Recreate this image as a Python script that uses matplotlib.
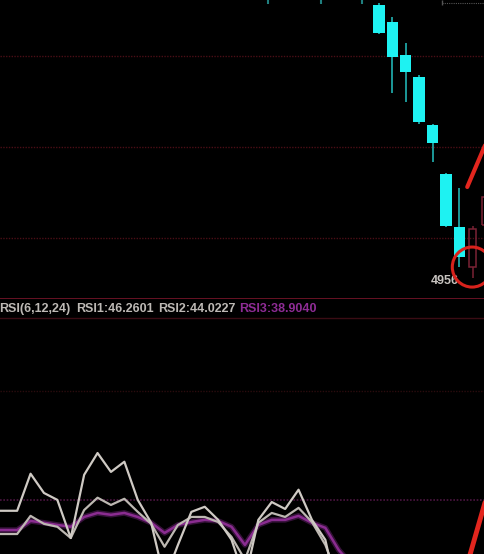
import numpy as np
import matplotlib
matplotlib.use("Agg")
import matplotlib.pyplot as plt
from matplotlib.patches import Ellipse

# candles (index, open, close, high, low) - last two are up candles (hollow)
idx = [28, 29, 30, 31, 32, 33, 34, 35, 36]
opens = [5256, 5237, 5201, 5177, 5124, 5070, 5012, 4968, 5014]
closes = [5225, 5199, 5182, 5127, 5104, 5013, 4979, 5010, 5045]
highs = [5258, 5243, 5214, 5179, 5125, 5071, 5055, 5013, 5052]
lows = [5224, 5159, 5149, 5125, 5083, 5012, 4968, 4956, 5009]
low_label = 4956
price_grid = [5000, 5100, 5200]

# wick tips of candles above the visible window
top_marks_x = [19.7, 23.7, 26.7]
top_marks_low = 5257

# RSI series, index -1 .. 36
rsi_idx = list(range(-1, 37))
rsi1 = [47.0, 47.0, 47.0, 57.2, 51.9, 50.0, 39.5, 56.9, 62.9, 57.7, 60.5, 50.0,
        43.7, 28.0, 37.6, 46.7, 48.1, 44.5, 39.0, 28.0, 44.5, 49.4, 47.5, 52.8,
        44.5, 39.0, 22.5, 18.0, 15.0, 12.0, 10.0, 8.5, 7.0, 6.0, 5.5, 12.0, 16.0, 24.0]
rsi2 = [40.6, 40.6, 40.6, 45.6, 43.4, 42.6, 39.5, 47.2, 50.6, 48.6, 50.3, 46.7,
        43.4, 37.1, 43.1, 45.3, 45.3, 43.9, 39.8, 33.5, 43.7, 46.4, 45.3, 47.8,
        43.9, 37.6, 28.0, 24.0, 21.0, 18.0, 16.0, 14.0, 12.0, 11.0, 10.0, 10.0, 14.0, 18.0]
rsi3 = [41.7, 41.7, 41.7, 44.2, 43.7, 43.1, 42.6, 45.3, 46.4, 45.9, 46.4, 45.3,
        43.7, 40.9, 43.1, 43.9, 44.5, 44.2, 42.6, 37.6, 43.1, 44.5, 44.5, 45.6,
        43.7, 42.3, 36.2, 32.0, 29.0, 26.0, 24.0, 22.0, 20.0, 18.0, 17.0, 16.0, 17.0, 19.0]
rsi_levels = [100, 80, 50]
rsi_header = ["RSI(6,12,24)", "RSI1:46.2601", "RSI2:44.0227", "RSI3:38.9040"]

# hand drawn red marks
arrow_up = ([34.59, 36.5], [5056, 5122])
arrow_rsi = ([34.5, 36.5], [31.1, 56.8])
circle_xy = (34.95, 4968)

W, H = 484, 554
fig = plt.figure(figsize=(W / 100, H / 100), dpi=100, facecolor="black")
ax1 = fig.add_axes([0, 1 - 299 / H, 1, 299 / H])
ax2 = fig.add_axes([0, 0, 1, 255 / H])
xlim = (-0.28, 35.84)
for ax in (ax1, ax2):
    ax.set_facecolor("black")
    ax.set_xlim(*xlim)
    ax.set_xticks([]); ax.set_yticks([])
    for s in ax.spines.values():
        s.set_visible(False)

# ---- price panel
ax1.set_ylim(4932.9, 5261.5)
for p in price_grid:
    ax1.axhline(p, color="#4a0e16", lw=1, ls=(0, (1, 1)))
ax1.spines["bottom"].set_visible(True)
ax1.spines["bottom"].set_color("#86172e")
ax1.spines["bottom"].set_linewidth(1.8)

for i, o, c, h, l in zip(idx, opens, closes, highs, lows):
    top, bot = max(o, c), min(o, c)
    if c < o:
        ax1.vlines(i, l, h, color="#1fa5a5", lw=1.3, zorder=2)
        ax1.bar(i, top - bot, bottom=bot, width=0.85, color="#1ef2f2", zorder=3)
    else:
        ax1.vlines(i, top, h, color="#7a2235", lw=1.1, zorder=2)
        ax1.vlines(i, l, bot, color="#7a2235", lw=1.1, zorder=2)
        ax1.bar(i, top - bot, bottom=bot, width=0.55, fill=False,
                edgecolor="#7a2235", lw=1.1, zorder=3)

ax1.vlines(top_marks_x, top_marks_low, 5262, color="#1f7f7f", lw=1.5)
ax1.vlines(32.72, 5256, 5262, color="#555555", lw=1)
ax1.hlines(5258.5, 32.72, 36, color="#555555", lw=0.8, ls=(0, (1, 1)))

ax1.text(33.95, low_label - 3, str(low_label), color="#c8c4c0", fontsize=9,
         fontweight="bold", ha="right", va="center", family="Liberation Sans",
         zorder=4)

ax1.plot(*arrow_up, color="#e3261e", lw=3, solid_capstyle="round", zorder=5)
ax1.add_patch(Ellipse(circle_xy, 2.95, 44, fill=False, edgecolor="#d8221c",
                      lw=2.2, zorder=5))

# ---- RSI panel
ax2.set_ylim(35.1, 105.3)
ax2.axhline(rsi_levels[0], color="#3a0c14", lw=1)
ax2.axhline(rsi_levels[1], color="#2a0c0e", lw=1, ls=(0, (1, 1)))
ax2.axhline(rsi_levels[2], color="#4c1542", lw=1.2, ls=(0, (1, 1)))

ax2.plot(rsi_idx, rsi3, color="#5a1e60", lw=4, alpha=0.6)
ax2.plot(rsi_idx, rsi3, color="#8a2c90", lw=1.8)
ax2.plot(rsi_idx, rsi2, color="#bdb8b2", lw=1.6)
ax2.plot(rsi_idx, rsi1, color="#cfcac4", lw=1.6)
ax2.plot(*arrow_rsi, color="#e3261e", lw=3.5, solid_capstyle="round")

hx = [-1, 76, 158, 239]
hc = ["#bdb9b5", "#bdb9b5", "#bdb9b5", "#8e2c95"]
for x, t, c in zip(hx, rsi_header, hc):
    fig.text(x / W, 1 - 309 / H, t, color=c, fontsize=9, fontweight="bold",
             va="center", ha="left", family="Liberation Sans")

fig.savefig("out.png", dpi=100, facecolor="black")
